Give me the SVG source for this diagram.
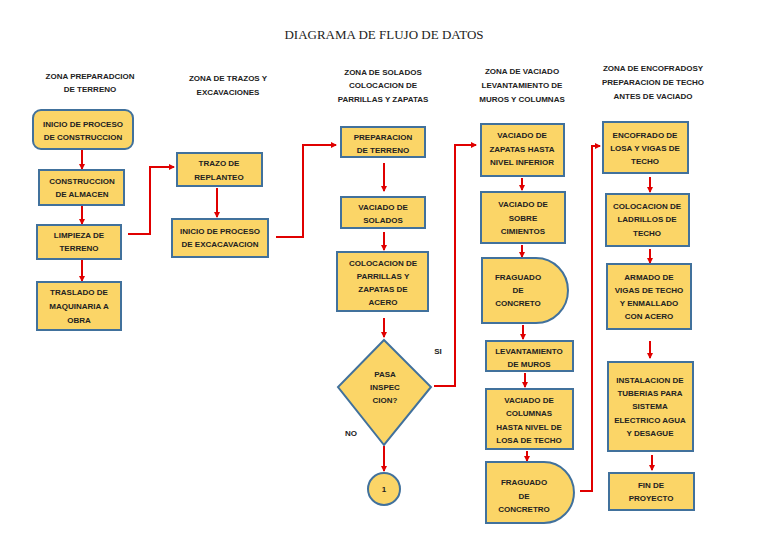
<svg xmlns="http://www.w3.org/2000/svg" width="768" height="543" viewBox="0 0 768 543">
<defs>
<marker id="ah" markerWidth="6" markerHeight="6" refX="5" refY="3" orient="auto" markerUnits="userSpaceOnUse"><path d="M0,0 L6,3 L0,6 z" fill="#e00000"/></marker>
<style>
.n{fill:#fbd567;stroke:#41719c;stroke-width:2}
.t{font-family:"Liberation Sans",Arial,sans-serif;font-size:8px;font-weight:bold;fill:#222;text-anchor:middle}
.h{font-family:"Liberation Sans",Arial,sans-serif;font-size:8px;font-weight:bold;fill:#222;text-anchor:middle}
.c{fill:none;stroke:#e00000;stroke-width:2;marker-end:url(#ah)}
</style>
</defs>
<rect width="768" height="543" fill="#fff"/>
<text x="384" y="39" style="font-family:'Liberation Serif',serif;font-size:13px;fill:#222" text-anchor="middle">DIAGRAMA DE FLUJO DE DATOS</text>
<g id="headers" class="h">
<text x="90" y="79" class="h">ZONA PREPARADCION</text><text x="90" y="92" class="h">DE TERRENO</text>
<text x="228" y="81" class="h">ZONA DE TRAZOS Y</text><text x="228" y="95" class="h">EXCAVACIONES</text>
<text x="383" y="75" class="h">ZONA DE SOLADOS</text><text x="383" y="88" class="h">COLOCACION DE</text><text x="383" y="102" class="h">PARRILLAS Y ZAPATAS</text>
<text x="522" y="74" class="h">ZONA DE VACIADO</text><text x="522" y="88" class="h">LEVANTAMIENTO DE</text><text x="522" y="102" class="h">MUROS Y COLUMNAS</text>
<text x="653" y="71" class="h">ZONA DE ENCOFRADOSY</text><text x="653" y="85" class="h">PREPARACION DE TECHO</text><text x="653" y="99" class="h">ANTES DE VACIADO</text>
</g>
<g id="connectors">
<path class="c" d="M82,150 V169"/><path class="c" d="M82,206 V224"/><path class="c" d="M82,260 V281"/>
<path class="c" d="M128,234 H150 V167 H174"/>
<path class="c" d="M217,188 V217"/>
<path class="c" d="M276,237 H303 V145 H336"/>
<path class="c" d="M384,163 V191"/><path class="c" d="M384,232 V250"/><path class="c" d="M384,318 V337"/><path class="c" d="M384,446 V471"/>
<path class="c" d="M434,386 H455 V145 H476"/>
<path class="c" d="M522,178 V190"/><path class="c" d="M522,245 V257"/><path class="c" d="M523,325 V339"/><path class="c" d="M525,373 V387"/><path class="c" d="M527,451 V461"/>
<path class="c" d="M580,491 H592 V146 H600"/>
<path class="c" d="M650,177 V192"/><path class="c" d="M650,249 V263"/><path class="c" d="M650,341 V358"/><path class="c" d="M652,455 V470"/>
</g>
<g id="n1"><rect class="n" x="33" y="110" width="100" height="39" rx="8"/><text class="t" x="83" y="127">INICIO DE PROCESO</text><text class="t" x="83" y="140">DE CONSTRUCCION</text></g>
<g id="n2"><rect class="n" x="39" y="170" width="85" height="35"/><text class="t" x="82" y="184">CONSTRUCCION</text><text class="t" x="82" y="197">DE ALMACEN</text></g>
<g id="n3"><rect class="n" x="37" y="225" width="84" height="34"/><text class="t" x="79" y="238">LIMPIEZA DE</text><text class="t" x="79" y="251">TERRENO</text></g>
<g id="n4"><rect class="n" x="37" y="282" width="84" height="48"/><text class="t" x="79" y="295">TRASLADO DE</text><text class="t" x="79" y="309">MAQUINARIA A</text><text class="t" x="79" y="323">OBRA</text></g>
<g id="n5"><rect class="n" x="177" y="153" width="85" height="33"/><text class="t" x="219" y="166">TRAZO DE</text><text class="t" x="219" y="180">REPLANTEO</text></g>
<g id="n6"><rect class="n" x="172" y="219" width="96" height="38"/><text class="t" x="220" y="234">INICIO DE PROCESO</text><text class="t" x="220" y="247">DE EXCACAVACION</text></g>
<g id="n7"><rect class="n" x="341" y="127" width="84" height="30"/><text class="t" x="383" y="140">PREPARACION</text><text class="t" x="383" y="153">DE TERRENO</text></g>
<g id="n8"><rect class="n" x="341" y="197" width="84" height="31"/><text class="t" x="383" y="210">VACIADO DE</text><text class="t" x="383" y="223">SOLADOS</text></g>
<g id="n9"><rect class="n" x="337" y="252" width="91" height="59"/><text class="t" x="383" y="266">COLOCACION DE</text><text class="t" x="383" y="279">PARRILLAS Y</text><text class="t" x="383" y="292">ZAPATAS DE</text><text class="t" x="383" y="305">ACERO</text></g>
<g id="n10"><polygon class="n" points="384,340 431,387 384,445 338,387"/><text class="t" x="385" y="377">PASA</text><text class="t" x="385" y="390">INSPEC</text><text class="t" x="385" y="403">CION?</text></g>
<g id="n11"><circle class="n" cx="384" cy="489" r="16"/><text class="t" x="384" y="492">1</text></g>
<text class="t" x="438" y="354">SI</text><text class="t" x="351" y="436">NO</text>
<g id="n12"><rect class="n" x="481" y="124" width="83" height="52"/><text class="t" x="522" y="138">VACIADO DE</text><text class="t" x="522" y="152">ZAPATAS HASTA</text><text class="t" x="522" y="165">NIVEL INFERIOR</text></g>
<g id="n13"><rect class="n" x="481" y="192" width="84" height="51"/><text class="t" x="523" y="207">VACIADO DE</text><text class="t" x="523" y="221">SOBRE</text><text class="t" x="523" y="234">CIMIENTOS</text></g>
<g id="n14"><path class="n" d="M482,258 H536 A32,32.5 0 0 1 536,323 H482 Z"/><text class="t" x="518" y="280">FRAGUADO</text><text class="t" x="518" y="293">DE</text><text class="t" x="518" y="306">CONCRETO</text></g>
<g id="n15"><rect class="n" x="486" y="341" width="87" height="30"/><text class="t" x="529" y="354">LEVANTAMIENTO</text><text class="t" x="529" y="367">DE MUROS</text></g>
<g id="n16"><rect class="n" x="486" y="389" width="87" height="60"/><text class="t" x="529" y="403">VACIADO DE</text><text class="t" x="529" y="416">COLUMNAS</text><text class="t" x="529" y="430">HASTA NIVEL DE</text><text class="t" x="529" y="443">LOSA DE TECHO</text></g>
<g id="n17"><path class="n" d="M486,462 H544 A30,30.5 0 0 1 544,523 H486 Z"/><text class="t" x="524" y="485">FRAGUADO</text><text class="t" x="524" y="499">DE</text><text class="t" x="524" y="512">CONCRETRO</text></g>
<g id="n18"><rect class="n" x="603" y="122" width="85" height="51"/><text class="t" x="645" y="138">ENCOFRADO DE</text><text class="t" x="645" y="151">LOSA Y VIGAS DE</text><text class="t" x="645" y="164">TECHO</text></g>
<g id="n19"><rect class="n" x="606" y="194" width="83" height="52"/><text class="t" x="647" y="209">COLOCACION DE</text><text class="t" x="647" y="222">LADRILLOS DE</text><text class="t" x="647" y="236">TECHO</text></g>
<g id="n20"><rect class="n" x="607" y="264" width="84" height="65"/><text class="t" x="649" y="280">ARMADO DE</text><text class="t" x="649" y="293">VIGAS DE TECHO</text><text class="t" x="649" y="306">Y ENMALLADO</text><text class="t" x="649" y="319">CON ACERO</text></g>
<g id="n21"><rect class="n" x="608" y="362" width="85" height="89"/><text class="t" x="650" y="383">INSTALACION DE</text><text class="t" x="650" y="396">TUBERIAS PARA</text><text class="t" x="650" y="409">SISTEMA</text><text class="t" x="650" y="423">ELECTRICO AGUA</text><text class="t" x="650" y="436">Y DESAGUE</text></g>
<g id="n22"><rect class="n" x="609" y="473" width="85" height="37"/><text class="t" x="651" y="488">FIN DE</text><text class="t" x="651" y="501">PROYECTO</text></g>
</svg>
